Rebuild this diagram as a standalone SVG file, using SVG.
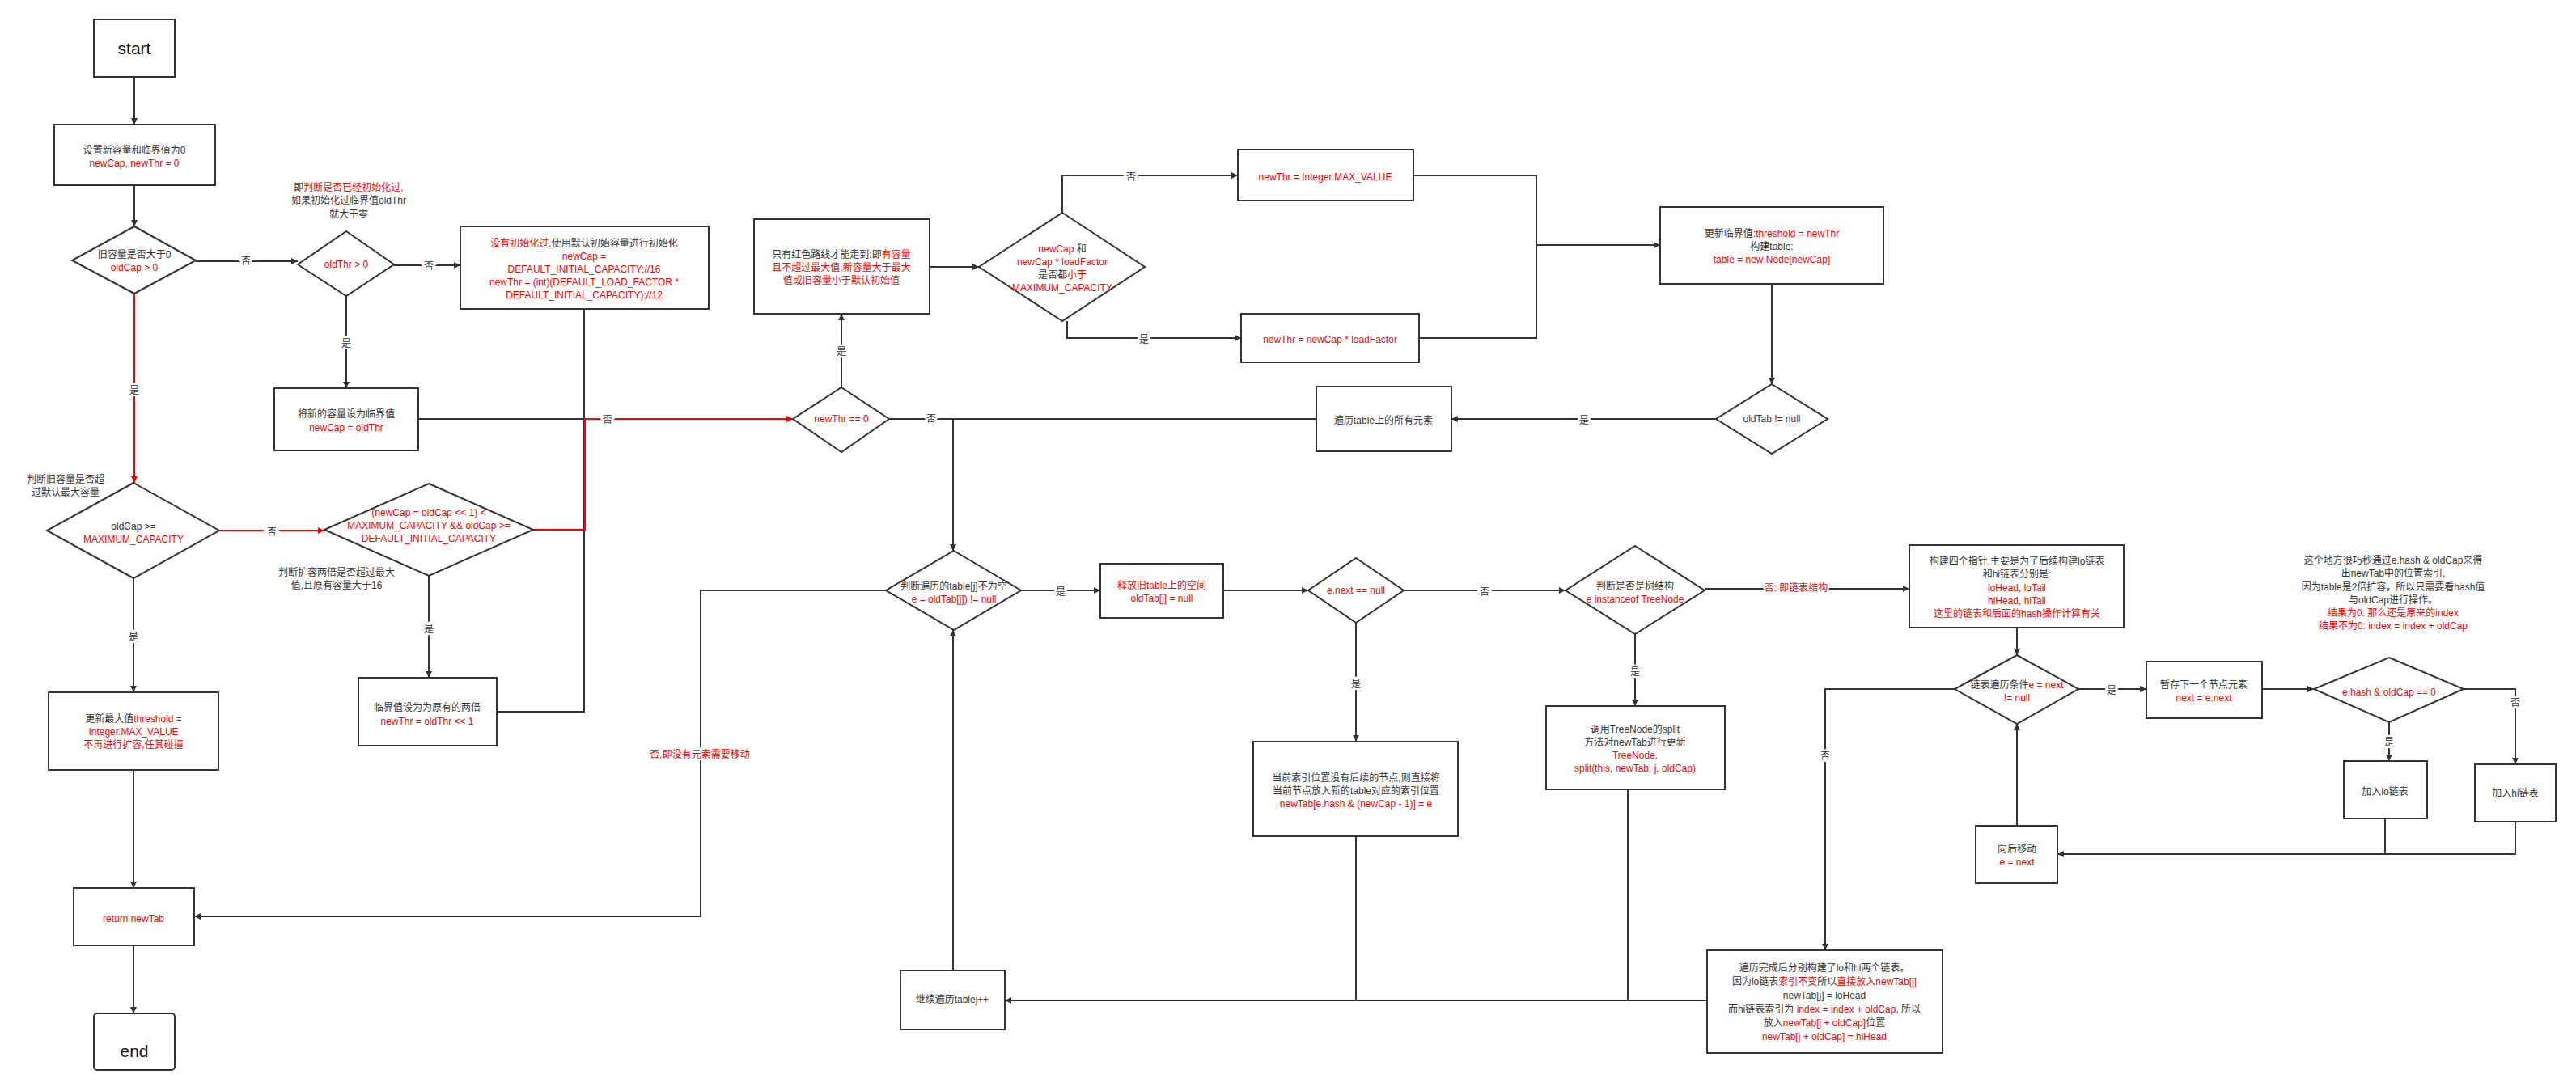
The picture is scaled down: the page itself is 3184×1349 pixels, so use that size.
<svg xmlns="http://www.w3.org/2000/svg" width="3184" height="1349" viewBox="0 0 3184 1349">
<style>
.b{fill:#fff;stroke:#333;stroke-width:2}
text{font-family:"Liberation Sans","Noto Sans CJK SC",sans-serif;font-size:12px;fill:#333;text-anchor:middle}
.r{fill:#f00}
.big{font-size:21px;fill:#111}
.c{fill:none;stroke:#333;stroke-width:2}
.cr{fill:none;stroke:#f00;stroke-width:2}
.l{paint-order:stroke;stroke:#fff;stroke-width:5px}
.lr{fill:#f00;paint-order:stroke;stroke:#fff;stroke-width:5px}
</style>
<defs>
<marker id="a" viewBox="0 0 10 10" refX="10" refY="5" markerWidth="8" markerHeight="8" markerUnits="userSpaceOnUse" orient="auto"><path d="M0,0L10,5L0,10z" fill="#333"/></marker>
<marker id="ar" viewBox="0 0 10 10" refX="10" refY="5" markerWidth="8" markerHeight="8" markerUnits="userSpaceOnUse" orient="auto"><path d="M0,0L10,5L0,10z" fill="#f00"/></marker>
</defs>
<rect width="3184" height="1349" fill="#fff"/>
<g id="connectors">
<path class="c" d="M166,95V154" marker-end="url(#a)"/>
<path class="c" d="M166,229V280" marker-end="url(#a)"/>
<path class="c" d="M242,323H368" marker-end="url(#a)"/>
<path class="c" d="M487,328H569" marker-end="url(#a)"/>
<path class="c" d="M428,366V480" marker-end="url(#a)"/>
<path class="c" d="M165,715V856" marker-end="url(#a)"/>
<path class="c" d="M530,712V838" marker-end="url(#a)"/>
<path class="c" d="M722,382V880H614"/>
<path class="c" d="M517,518H722"/>
<path class="cr" d="M166,363V597" marker-end="url(#ar)"/>
<path class="cr" d="M271,656H401" marker-end="url(#ar)"/>
<path class="cr" d="M659,655H723V518H980" marker-end="url(#ar)"/>
<path class="c" d="M165,952V1098" marker-end="url(#a)"/>
<path class="c" d="M165,1169V1253" marker-end="url(#a)"/>
<path class="c" d="M1040,479V388" marker-end="url(#a)"/>
<path class="c" d="M1099,518H1178V681" marker-end="url(#a)"/>
<path class="c" d="M1627,518H1178"/>
<path class="c" d="M1149,330H1210" marker-end="url(#a)"/>
<path class="c" d="M1313,263V217H1530" marker-end="url(#a)"/>
<path class="c" d="M1319,397V418H1534" marker-end="url(#a)"/>
<path class="c" d="M1747,217H1899V418H1754"/>
<path class="c" d="M1899,303H2052" marker-end="url(#a)"/>
<path class="c" d="M2190,351V475" marker-end="url(#a)"/>
<path class="c" d="M2121,518H1794" marker-end="url(#a)"/>
<path class="c" d="M1262,730H1360" marker-end="url(#a)"/>
<path class="c" d="M1512,730H1617" marker-end="url(#a)"/>
<path class="c" d="M1735,730H1935" marker-end="url(#a)"/>
<path class="c" d="M1676,770V917" marker-end="url(#a)"/>
<path class="c" d="M2107,728H2360" marker-end="url(#a)"/>
<path class="c" d="M2021,784V873" marker-end="url(#a)"/>
<path class="c" d="M2493,776V810" marker-end="url(#a)"/>
<path class="c" d="M2569,852H2653" marker-end="url(#a)"/>
<path class="c" d="M2796,852H2860" marker-end="url(#a)"/>
<path class="c" d="M2953,893V941" marker-end="url(#a)"/>
<path class="c" d="M3045,852H3109V945" marker-end="url(#a)"/>
<path class="c" d="M2948,1012V1056H2543" marker-end="url(#a)"/>
<path class="c" d="M3109,1016V1056H2948"/>
<path class="c" d="M2493,1021V895" marker-end="url(#a)"/>
<path class="c" d="M2416,852H2256V1175" marker-end="url(#a)"/>
<path class="c" d="M2110,1237H1242" marker-end="url(#a)"/>
<path class="c" d="M1676,1034V1237"/>
<path class="c" d="M2012,976V1237"/>
<path class="c" d="M1178,1200V779" marker-end="url(#a)"/>
<path class="c" d="M1095,730H866V1133H240" marker-end="url(#a)"/>
<text class="l" x="304" y="327">否</text>
<text class="l" x="530" y="333">否</text>
<text class="l" x="428" y="429">是</text>
<text class="l" x="166" y="487">是</text>
<text class="l" x="336" y="662">否</text>
<text class="l" x="165" y="792">是</text>
<text class="l" x="530" y="782">是</text>
<text class="l" x="751" y="523">否</text>
<text class="l" x="1040" y="439">是</text>
<text class="l" x="1151" y="522">否</text>
<text class="l" x="1398" y="223">否</text>
<text class="l" x="1414" y="424">是</text>
<text class="l" x="1958" y="524">是</text>
<text class="l" x="1311" y="736">是</text>
<text class="l" x="1835" y="736">否</text>
<text class="l" x="1676" y="850">是</text>
<text class="lr" x="2220" y="731">否: 即链表结构</text>
<text class="l" x="2021" y="835">是</text>
<text class="l" x="2610" y="858">是</text>
<text class="l" x="2953" y="922">是</text>
<text class="l" x="3109" y="873">否</text>
<text class="l" x="2256" y="939">否</text>
<text class="lr" x="865" y="937">否,即没有元素需要移动</text>
</g>
<g id="start"><rect class="b" x="116" y="24" width="100" height="71"/><text class="big" x="166" y="67">start</text></g>
<g id="init"><rect class="b" x="67" y="154" width="199" height="75"/><text x="166" y="190">设置新容量和临界值为0</text><text class="r" x="166" y="206">newCap, newThr = 0</text></g>
<g id="d-oldcap"><path class="b" d="M166,280L242,322L166,363L89,322Z"/><text x="166" y="319">旧容量是否大于0</text><text class="r" x="166" y="335">oldCap &gt; 0</text></g>
<g id="note1"><text x="431" y="236"><tspan>即</tspan><tspan class="r">判断是否已经初始化过,</tspan></text><text x="431" y="252">如果初始化过临界值oldThr</text><text x="431" y="269">就大于零</text></g>
<g id="d-oldthr"><path class="b" d="M428,286L487,327L428,366L368,327Z"/><text class="r" x="428" y="331">oldThr &gt; 0</text></g>
<g id="default"><rect class="b" x="569" y="280" width="307" height="102"/><text x="722" y="305"><tspan class="r">没有初始化过,</tspan><tspan>使用默认初始容量进行初始化</tspan></text><text class="r" x="722" y="321">newCap =</text><text class="r" x="722" y="337">DEFAULT_INITIAL_CAPACITY;//16</text><text class="r" x="722" y="353">newThr = (int)(DEFAULT_LOAD_FACTOR *</text><text class="r" x="722" y="369">DEFAULT_INITIAL_CAPACITY);//12</text></g>
<g id="setcap"><rect class="b" x="339" y="480" width="178" height="77"/><text x="428" y="516">将新的容量设为临界值</text><text class="r" x="428" y="533">newCap = oldThr</text></g>
<g id="note2"><text x="81" y="597">判断旧容量是否超</text><text x="81" y="613">过默认最大容量</text></g>
<g id="d-max"><path class="b" d="M165,597L271,656L165,715L58,656Z"/><text x="165" y="655">oldCap &gt;=</text><text class="r" x="165" y="671">MAXIMUM_CAPACITY</text></g>
<g id="d-double"><path class="b" d="M530,598L659,655L530,712L401,655Z"/><text class="r" x="530" y="638">(newCap = oldCap &lt;&lt; 1) &lt;</text><text class="r" x="530" y="654">MAXIMUM_CAPACITY &amp;&amp; oldCap &gt;=</text><text class="r" x="530" y="670">DEFAULT_INITIAL_CAPACITY</text></g>
<g id="note3"><text x="416" y="712">判断扩容两倍是否超过最大</text><text x="416" y="728">值,且原有容量大于16</text></g>
<g id="maxval"><rect class="b" x="60" y="856" width="210" height="96"/><text x="165" y="893"><tspan>更新最大值</tspan><tspan class="r">threshold =</tspan></text><text class="r" x="165" y="909">Integer.MAX_VALUE</text><text class="r" x="165" y="925">不再进行扩容,任其碰撞</text></g>
<g id="dbl"><rect class="b" x="443" y="838" width="171" height="84"/><text x="528" y="879">临界值设为为原有的两倍</text><text class="r" x="528" y="896">newThr = oldThr &lt;&lt; 1</text></g>
<g id="ret"><rect class="b" x="91" y="1098" width="149" height="71"/><text class="r" x="165" y="1140">return newTab</text></g>
<g id="end"><rect class="b" x="116" y="1253" width="100" height="70" rx="4"/><text class="big" x="166" y="1307">end</text></g>
<g id="d-newthr"><path class="b" d="M1040,479L1099,518L1040,559L980,518Z"/><text class="r" x="1040" y="522">newThr == 0</text></g>
<g id="redonly"><rect class="b" x="932" y="271" width="217" height="117"/><text x="1040" y="319"><tspan>只有红色路线才能走到:即</tspan><tspan class="r">有容量</tspan></text><text class="r" x="1040" y="335">且不超过最大值,新容量大于最大</text><text class="r" x="1040" y="351">值或旧容量小于默认初始值</text></g>
<g id="d-newcap"><path class="b" d="M1313,263L1415,330L1313,397L1210,330Z"/><text x="1313" y="312"><tspan class="r">newCap</tspan><tspan> 和</tspan></text><text class="r" x="1313" y="328">newCap * loadFactor</text><text x="1313" y="344"><tspan>是否都</tspan><tspan class="r">小于</tspan></text><text class="r" x="1313" y="360">MAXIMUM_CAPACITY</text></g>
<g id="thrmax"><rect class="b" x="1530" y="185" width="217" height="63"/><text class="r" x="1638" y="223">newThr = Integer.MAX_VALUE</text></g>
<g id="thrlf"><rect class="b" x="1534" y="388" width="220" height="60"/><text class="r" x="1644" y="424">newThr = newCap * loadFactor</text></g>
<g id="update"><rect class="b" x="2052" y="256" width="276" height="95"/><text x="2190" y="293"><tspan>更新临界值:</tspan><tspan class="r">threshold = newThr</tspan></text><text x="2190" y="309">构建table:</text><text class="r" x="2190" y="325">table = new Node[newCap]</text></g>
<g id="d-oldtab"><path class="b" d="M2190,475L2259,518L2190,561L2121,518Z"/><text x="2190" y="522">oldTab != null</text></g>
<g id="iter"><rect class="b" x="1627" y="478" width="167" height="80"/><text x="1710" y="524">遍历table上的所有元素</text></g>
<g id="d-tabj"><path class="b" d="M1179,681L1262,730L1179,779L1095,730Z"/><text x="1179" y="729">判断遍历的table[j]不为空</text><text class="r" x="1179" y="745">e = oldTab[j]) != null</text></g>
<g id="release"><rect class="b" x="1360" y="697" width="152" height="67"/><text class="r" x="1436" y="728">释放旧table上的空间</text><text class="r" x="1436" y="744">oldTab[j] = null</text></g>
<g id="d-next"><path class="b" d="M1676,690L1735,730L1676,770L1617,730Z"/><text class="r" x="1676" y="734">e.next == null</text></g>
<g id="single"><rect class="b" x="1549" y="917" width="253" height="117"/><text x="1676" y="966">当前索引位置没有后续的节点,则直接将</text><text x="1676" y="982">当前节点放入新的table对应的索引位置</text><text class="r" x="1676" y="998">newTab[e.hash &amp; (newCap - 1)] = e</text></g>
<g id="d-tree"><path class="b" d="M2021,675L2107,730L2021,784L1935,730Z"/><text x="2021" y="729">判断是否是树结构</text><text class="r" x="2021" y="745">e instanceof TreeNode</text></g>
<g id="split"><rect class="b" x="1911" y="873" width="221" height="103"/><text x="2021" y="906">调用TreeNode的split</text><text x="2021" y="922">方法对newTab进行更新</text><text class="r" x="2021" y="938">TreeNode.</text><text class="r" x="2021" y="954">split(this, newTab, j, oldCap)</text></g>
<g id="ptrs"><rect class="b" x="2360" y="674" width="265" height="102"/><text x="2493" y="698">构建四个指针,主要是为了后续构建lo链表</text><text x="2493" y="714">和hi链表分别是:</text><text class="r" x="2493" y="731">loHead, loTail</text><text class="r" x="2493" y="747">hiHead, hiTail</text><text class="r" x="2493" y="763">这里的链表和后面的hash操作计算有关</text></g>
<g id="note4"><text x="2958" y="697">这个地方很巧秒通过e.hash &amp; oldCap来得</text><text x="2958" y="713">出newTab中的位置索引,</text><text x="2958" y="730">因为table是2倍扩容，所以只需要看hash值</text><text x="2958" y="746">与oldCap进行操作。</text><text class="r" x="2958" y="762">结果为0: 那么还是原来的index</text><text class="r" x="2958" y="778">结果不为0: index = index + oldCap</text></g>
<g id="d-loop"><path class="b" d="M2493,810L2569,852L2493,895L2416,852Z"/><text x="2493" y="851"><tspan>链表遍历条件</tspan><tspan class="r">e = next</tspan></text><text class="r" x="2493" y="867">!= null</text></g>
<g id="savenext"><rect class="b" x="2653" y="818" width="143" height="70"/><text x="2724" y="851">暂存下一个节点元素</text><text class="r" x="2724" y="867">next = e.next</text></g>
<g id="d-hash"><path class="b" d="M2953,813L3045,852L2953,893L2860,852Z"/><text class="r" x="2953" y="860">e.hash &amp; oldCap == 0</text></g>
<g id="lo"><rect class="b" x="2897" y="941" width="103" height="71"/><text x="2948" y="983">加入lo链表</text></g>
<g id="hi"><rect class="b" x="3059" y="945" width="100" height="71"/><text x="3109" y="985">加入hi链表</text></g>
<g id="move"><rect class="b" x="2442" y="1021" width="101" height="71"/><text x="2493" y="1054">向后移动</text><text class="r" x="2493" y="1070">e = next</text></g>
<g id="done"><rect class="b" x="2110" y="1175" width="291" height="127"/><text x="2255" y="1201">遍历完成后分别构建了lo和hi两个链表。</text><text x="2255" y="1218"><tspan>因为lo链表</tspan><tspan class="r">索引不变</tspan><tspan>所以</tspan><tspan class="r">直接放入newTab[j]</tspan></text><text x="2255" y="1235">newTab[j] = loHead</text><text x="2255" y="1252"><tspan>而hi链表索引为 </tspan><tspan class="r">index = index + oldCap</tspan><tspan>, 所以</tspan></text><text x="2255" y="1269"><tspan>放入</tspan><tspan class="r">newTab[j + oldCap]</tspan><tspan>位置</tspan></text><text class="r" x="2255" y="1286">newTab[j + oldCap] = hiHead</text></g>
<g id="cont"><rect class="b" x="1113" y="1200" width="129" height="73"/><text x="1177" y="1240"><tspan>继续遍历table</tspan><tspan class="r">j++</tspan></text></g>
</svg>
